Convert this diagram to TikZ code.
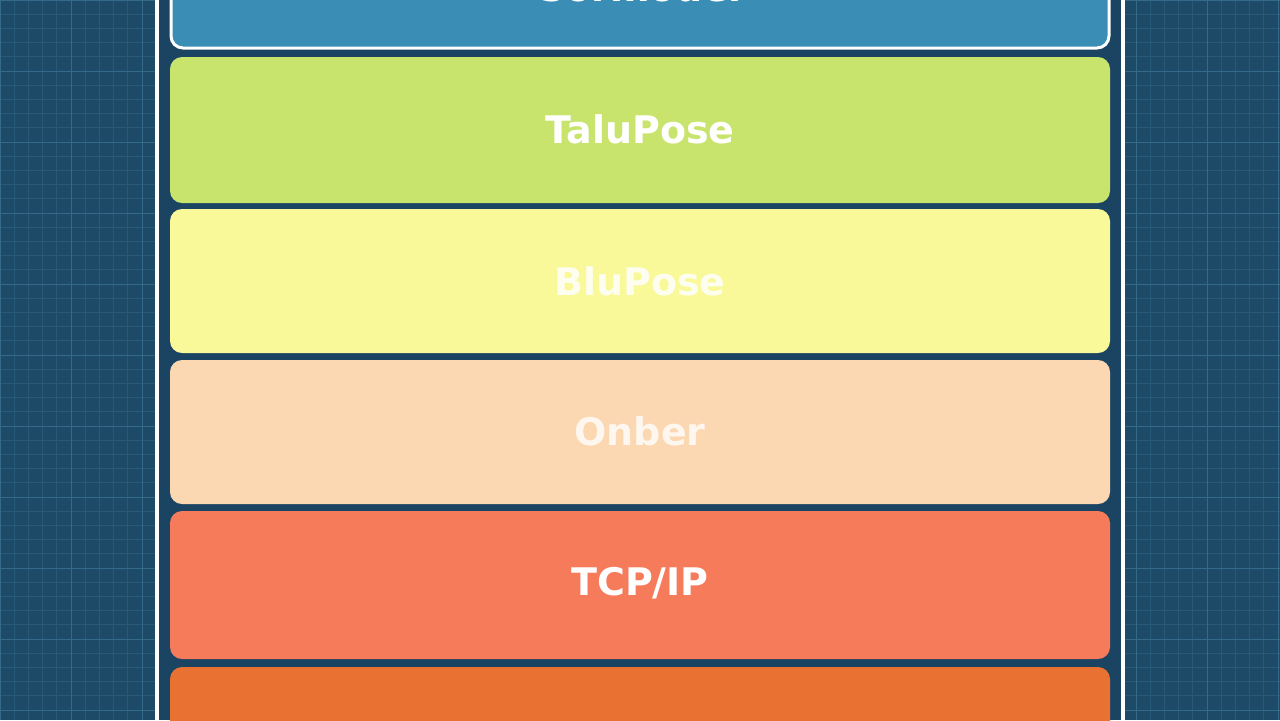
\documentclass[tikz,border=0pt]{standalone}
\usepackage{fontspec}
\setmainfont{DejaVu Sans}
\definecolor{bg}{HTML}{1D4A66}
\definecolor{gridminor}{HTML}{285A78}
\definecolor{gridmajor}{HTML}{35698A}
\definecolor{colbg}{HTML}{1A4461}
\definecolor{blueblk}{HTML}{3A8DB5}
\definecolor{greenblk}{HTML}{C9E46C}
\definecolor{yellowblk}{HTML}{F9F99A}
\definecolor{peachblk}{HTML}{FBD8B1}
\definecolor{redblk}{HTML}{F67B5B}
\definecolor{orangeblk}{HTML}{E97233}
\tikzset{
  blk/.style={rounded corners=6pt, minimum width=470pt, inner sep=0pt, draw=none},
  lbl/.style={text=white, font=\fontsize{19}{23}\selectfont\bfseries},
  railline/.style={white, line width=2pt},
}
\begin{document}
\begin{tikzpicture}[x=0.5pt,y=-0.5pt]
\useasboundingbox (0,0) rectangle (1280,720);
\clip (0,0) rectangle (1280,720);
\fill[bg] (0,0) rectangle (1280,720);
\draw[gridminor, line width=0.35pt] (0,0) grid[step=7.1pt] (1280,720);
\draw[gridmajor, line width=0.5pt] (0,0) grid[step=35.5pt] (1280,720);
% column
\fill[colbg] (157,0) rectangle (1123,720);
\coordinate (lt) at (157,0); \coordinate (lb) at (157,720);
\coordinate (rt) at (1123,0); \coordinate (rb) at (1123,720);
\draw[railline] (lt) -- (lb);
\draw[railline] (rt) -- (rb);
% top blue block
\node[blk, fill=blueblk, draw=white, line width=1.5pt, minimum width=469pt, minimum height=73pt] (blue) at (640,-25) {};
\node[lbl] (toptext) at (640,-13) {Sormodel};
% layers
\node[blk, fill=greenblk, minimum height=73pt] (green) at (640,130) {};
\node[lbl] (tg) at (640,129) {TaluPose};
\node[blk, fill=yellowblk, minimum height=72pt] (yellow) at (640,281) {};
\node[lbl, text=white!85!yellowblk] (ty) at (640,281) {BluPose};
\node[blk, fill=peachblk, minimum height=72pt] (peach) at (640,432) {};
\node[lbl, text=white!80!peachblk] (tp) at (640,431) {Onber};
\node[blk, fill=redblk, minimum height=74pt] (red) at (640,585) {};
\node[lbl] (tr) at (640,583) {TCP/IP};
\node[blk, fill=orangeblk, minimum height=73pt] (orange) at (640,740) {};
\end{tikzpicture}
\end{document}
